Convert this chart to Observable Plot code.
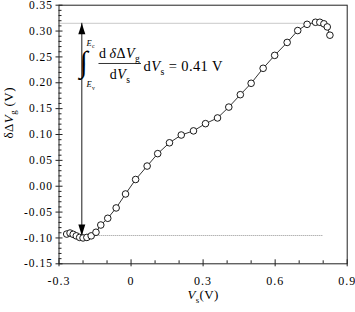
<!DOCTYPE html>
<html>
<head>
<meta charset="utf-8">
<script src="https://cdn.jsdelivr.net/npm/d3@7"></script>
<script src="https://cdn.jsdelivr.net/npm/@observablehq/plot@0.6"></script>
<style>
  html, body { margin: 0; padding: 0; background: #fff; }
  svg text { font-family: "Liberation Serif", "Times New Roman", serif; letter-spacing: 0.4px; }
  g[aria-label$="tick label"] text { letter-spacing: 1px; }
</style>
</head>
<body>
<div id="chart"></div>
<script>
// ---- data ----
const Vs  = [-0.268, -0.254, -0.241, -0.228, -0.214, -0.200, -0.184, -0.166, -0.146, -0.126,
             -0.097, -0.062, -0.023, 0.019, 0.067, 0.111, 0.160, 0.209, 0.260, 0.310,
             0.360, 0.407, 0.455, 0.500, 0.550, 0.598, 0.650, 0.694, 0.733, 0.768,
             0.786, 0.803, 0.817, 0.828];
const dVg = [-0.0925, -0.0905, -0.093, -0.096, -0.099, -0.100, -0.099, -0.096, -0.089, -0.075,
             -0.062, -0.042, -0.015, 0.013, 0.039, 0.063, 0.084, 0.099, 0.107, 0.121,
             0.132, 0.153, 0.177, 0.199, 0.228, 0.253, 0.278, 0.301, 0.313, 0.317,
             0.317, 0.314, 0.308, 0.292];

// tick values
const xMajor = [-0.3, 0, 0.3, 0.6, 0.9];
const xMinor = [-0.2, -0.1, 0.1, 0.2, 0.4, 0.5, 0.7, 0.8];
const yMajor = [-0.15, -0.10, -0.05, 0.00, 0.05, 0.10, 0.15, 0.20, 0.25, 0.30, 0.35];
const yMinor = d3.range(-15, 36).filter(k => k % 5 !== 0).map(k => k / 100);

// annotation: dotted reference levels (Ev and Ec) and double arrow
const refLevel = [0.315, -0.0953];
const refFrom  = [-0.3, -0.205];
const refTo    = [0.733, 0.801];
const arrowX   = -0.205;

// labels
const xLabel = "{i:V}{s:s}(V)";
const yLabel = "δΔ{i:V}{s:g} (V)";
const formulaIntegral = {x: -0.197, y: 0.2392, t: "∫"};
const formulaUpper = {x: -0.1855, y: 0.277, t: "{i:E}{s:c}"};
const formulaLower = {x: -0.1855, y: 0.1967, t: "{i:E}{s:v}"};
const formulaNum   = {x: -0.1335, y: 0.2566, t: "d\u2009{i:δ}Δ{i:V}{s:g}"};
const formulaBar   = {y: 0.2373, x1: -0.1335, x2: 0.0435};
const formulaDen   = {x: -0.046, y: 0.216, t: "d{i:V}{s:s}"};
const formulaRest  = {x: 0.0518, y: 0.2315, t: "d{i:V}{s:s} = 0.41 V"};

const data = Vs.map((x, i) => ({x, y: dVg[i]}));
const refs = refLevel.map((y, i) => ({y, x1: refFrom[i], x2: refTo[i]}));

const W = 355, H = 312;
const mL = 58.5, mR = 8.3, mT = 4.7, mB = 48.7;
const plotW = W - mL - mR, plotH = H - mT - mB;

const headUp = {draw(ctx) { ctx.moveTo(0, 0); ctx.lineTo(3.5, 11); ctx.lineTo(-3.5, 11); ctx.closePath(); }};
const headDown = {draw(ctx) { ctx.moveTo(0, 0); ctx.lineTo(3.5, -11); ctx.lineTo(-3.5, -11); ctx.closePath(); }};

const fmtX = d => d === 0 ? "0" : d.toFixed(1);
const fmtY = d => d.toFixed(2);
const serif = "'Liberation Serif', 'Times New Roman', serif";

const chart = Plot.plot({
  width: W, height: H,
  marginLeft: mL, marginRight: mR, marginTop: mT, marginBottom: mB,
  x: {domain: [-0.3, 0.9]},
  y: {domain: [-0.15, 0.35]},
  style: {fontFamily: serif, fontSize: "12px", background: "#fff", color: "#000"},
  marks: [
    Plot.frame({stroke: "#222", strokeWidth: 1}),
    // ticks
    Plot.ruleX(xMajor, {x: d => d, insetTop: plotH - 4, insetBottom: -3, stroke: "#222"}),
    Plot.ruleX(xMinor, {x: d => d, insetTop: plotH - 3, stroke: "#222"}),
    Plot.ruleY(yMajor, {y: d => d, insetRight: plotW - 4, insetLeft: -3, stroke: "#222"}),
    Plot.ruleY(yMinor, {y: d => d, insetRight: plotW - 3, stroke: "#222"}),
    Plot.axisX({ticks: xMajor, tickSize: 0, tickPadding: 13, tickFormat: fmtX, label: null, fontSize: 12, fontFamily: serif}),
    Plot.axisY({ticks: yMajor, tickSize: 0, tickPadding: 6, tickFormat: fmtY, label: null, fontSize: 11.5, fontFamily: serif}),
    // reference dotted lines
    Plot.ruleY(refs, {y: "y", x1: "x1", x2: "x2", stroke: "#777", strokeWidth: 0.8, strokeDasharray: "1,1"}),
    // double arrow
    Plot.ruleX([arrowX], {x: d => d, y1: refLevel[1], y2: refLevel[0], stroke: "#000", strokeWidth: 0.9}),
    Plot.dot([arrowX], {x: d => d, y: refLevel[0], symbol: headUp, fill: "#000", stroke: "none"}),
    Plot.dot([arrowX], {x: d => d, y: refLevel[1], symbol: headDown, fill: "#000", stroke: "none"}),
    // curve
    Plot.line(data, {x: "x", y: "y", stroke: "#000", strokeWidth: 0.8}),
    Plot.dot(data, {x: "x", y: "y", r: 3.3, fill: "#fff", stroke: "#000", strokeWidth: 0.9}),
    // formula
    Plot.text([formulaIntegral], {x: "x", y: "y", text: "t", fontSize: 30, textAnchor: "middle", fill: "#000", fontFamily: serif}),
    Plot.text([formulaUpper, formulaLower], {x: "x", y: "y", text: "t", fontSize: 8.5, textAnchor: "start", fill: "#000", fontFamily: serif}),
    Plot.text([formulaNum], {x: "x", y: "y", text: "t", fontSize: 14, textAnchor: "start", fill: "#000", fontFamily: serif}),
    Plot.ruleY([formulaBar], {y: "y", x1: "x1", x2: "x2", stroke: "#000", strokeWidth: 0.8}),
    Plot.text([formulaDen], {x: "x", y: "y", text: "t", fontSize: 14, textAnchor: "middle", fill: "#000", fontFamily: serif}),
    Plot.text([formulaRest], {x: "x", y: "y", text: "t", fontSize: 14.5, textAnchor: "start", fill: "#000", fontFamily: serif}),
    // axis labels
    Plot.text([xLabel], {text: d => d, frameAnchor: "bottom", dy: 35.5, fontSize: 13, fill: "#000", fontFamily: serif}),
    Plot.text([yLabel], {text: d => d, frameAnchor: "left", rotate: -90, dx: -50.5, dy: 4, fontSize: 13, fill: "#000", fontFamily: serif})
  ]
});

document.getElementById("chart").appendChild(chart);

// turn {i:..} (italic) and {s:..} (subscript) markup into tspans
function richify(svg) {
  svg.querySelectorAll("text").forEach(t => {
    const s = t.textContent;
    if (!s.includes("{")) return;
    const fs = parseFloat(getComputedStyle(t).fontSize) || 12;
    while (t.firstChild) t.removeChild(t.firstChild);
    const re = /\{(i|s):([^}]*)\}/g;
    let last = 0, m, shifted = false;
    const add = (txt, type) => {
      if (!txt) return;
      const ts = document.createElementNS("http://www.w3.org/2000/svg", "tspan");
      ts.textContent = txt;
      if (type === "i") ts.setAttribute("font-style", "italic");
      if (type === "s") {
        ts.setAttribute("font-size", (fs * 0.68) + "px");
        ts.setAttribute("dy", (fs * 0.28) + "px");
        shifted = true;
      } else if (shifted) {
        ts.setAttribute("dy", (-fs * 0.28) + "px");
        shifted = false;
      }
      t.appendChild(ts);
    };
    while ((m = re.exec(s))) {
      add(s.slice(last, m.index), null);
      add(m[2], m[1]);
      last = re.lastIndex;
    }
    add(s.slice(last), null);
  });
}
richify(chart);
</script>
</body>
</html>
